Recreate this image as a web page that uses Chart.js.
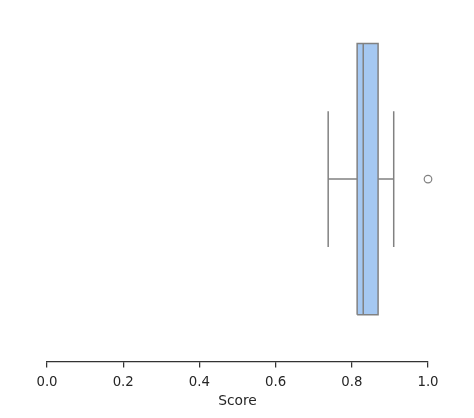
<!DOCTYPE html>
<html>
<head>
<meta charset="utf-8">
<script src="https://cdn.jsdelivr.net/npm/chart.js@4/dist/chart.umd.min.js"></script>
<style>
html,body{margin:0;padding:0;background:#fff;}
#wrap{width:474px;height:418px;}
</style>
</head>
<body>
<div id="wrap"><canvas id="c" width="474" height="418"></canvas></div>
<script>
// Box plot statistics (horizontal box, x = Score)
const q1 = [0.814];
const median = [0.830];
const q3 = [0.869];
const whiskerLow = [0.738];
const whiskerHigh = [0.910];
const outliers = [1.0];
const xTicks = [0.0, 0.2, 0.4, 0.6, 0.8, 1.0];

const BOX_HALF = 0.4, CAP_HALF = 0.2, POS = 0;
const lineColor = '#818181';
const boxFill = '#a5c8f2';

const seg = (x1, y1, x2, y2) => [{x: x1, y: y1}, {x: x2, y: y2}];
const lineDs = (data, extra) => Object.assign({
  data, borderColor: lineColor, borderWidth: 1.5, pointRadius: 0,
  pointHoverRadius: 0, fill: false, tension: 0, order: 0
}, extra || {});

const datasets = [];
for (let i = 0; i < q1.length; i++) {
  datasets.push(lineDs([
    {x: q1[i], y: POS - BOX_HALF}, {x: q3[i], y: POS - BOX_HALF},
    {x: q3[i], y: POS + BOX_HALF}, {x: q1[i], y: POS + BOX_HALF},
    {x: q1[i], y: POS - BOX_HALF}
  ], {fill: 'shape', backgroundColor: boxFill, order: 10}));
  datasets.push(lineDs(seg(median[i], POS - BOX_HALF, median[i], POS + BOX_HALF)));
  datasets.push(lineDs(seg(whiskerLow[i], POS, q1[i], POS)));
  datasets.push(lineDs(seg(q3[i], POS, whiskerHigh[i], POS)));
  datasets.push(lineDs(seg(whiskerLow[i], POS - CAP_HALF, whiskerLow[i], POS + CAP_HALF)));
  datasets.push(lineDs(seg(whiskerHigh[i], POS - CAP_HALF, whiskerHigh[i], POS + CAP_HALF)));
}
datasets.push({
  data: outliers.map(v => ({x: v, y: POS})),
  showLine: false, clip: false, order: 0,
  pointRadius: 3.8, pointHoverRadius: 3.8,
  pointStyle: 'circle', pointBorderColor: lineColor, pointBackgroundColor: 'rgba(255,255,255,0)',
  pointBorderWidth: 1.2, borderColor: lineColor, backgroundColor: 'rgba(255,255,255,0)'
});

new Chart(document.getElementById('c'), {
  type: 'line',
  data: {datasets},
  options: {
    responsive: false,
    animation: false,
    events: [],
    layout: {padding: {left: 47, right: 46, top: 10, bottom: 8.5}},
    plugins: {legend: {display: false}, tooltip: {enabled: false}},
    scales: {
      x: {
        type: 'linear', min: 0, max: 1,
        afterBuildTicks: (axis) => { axis.ticks = xTicks.map(v => ({value: v})); },
        ticks: {
          callback: (v) => Number(v).toFixed(1),
          color: '#262626', font: {family: 'DejaVu Sans', size: 13.3}, padding: 7,
          maxRotation: 0, autoSkip: false
        },
        grid: {display: true, drawOnChartArea: false, drawTicks: true, tickLength: 6, color: '#333333', lineWidth: 1.25},
        border: {display: true, color: '#333333', width: 1.25},
        title: {display: true, text: 'Score', color: '#262626', font: {family: 'DejaVu Sans', size: 13.8}, padding: {top: -4.5, bottom: 0}}
      },
      y: {
        type: 'linear', display: false, min: -0.538, max: 0.4987
      }
    }
  }
});
</script>
</body>
</html>
